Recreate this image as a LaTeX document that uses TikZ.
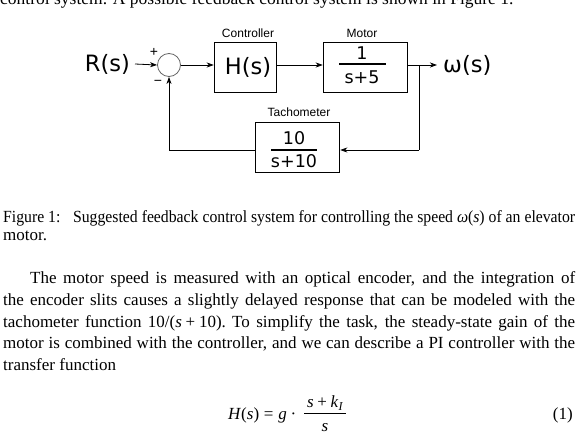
\documentclass[tikz,border=0pt]{standalone}
\usepackage{fontspec}
\usepackage{graphicx}
\setmainfont{Liberation Serif}
\newfontfamily\djv{DejaVu Sans}
\newfontfamily\lsans{Liberation Sans}
\usetikzlibrary{arrows.meta}
\newcommand\jline[2]{\makebox[#1][s]{\spaceskip=0.25em plus 0.6em minus 0.12em\relax #2}}
\newcommand\fitline[2]{\resizebox{#1}{\height}{#2}}
\begin{document}
\begin{tikzpicture}[x=1pt,y=-1pt,
 blk/.style={draw,line width=1.5pt,inner sep=0pt},
 conn/.style={line width=0.8pt},
 arr/.style={conn,-{Stealth[length=7pt,width=5pt,inset=2pt]}},
 lbl/.style={font=\lsans\fontsize{12}{14}\selectfont,inner sep=0pt},
 sgn/.style={font=\lsans\fontsize{14}{16}\selectfont,inner sep=0pt},
 big/.style={font=\djv\fontsize{22.5}{26}\selectfont,inner sep=0pt},
 frc/.style={font=\djv\fontsize{17.5}{20}\selectfont,inner sep=0pt},
 bar/.style={line width=1.2pt},
 body/.style={font=\fontsize{17}{20}\selectfont,inner sep=0pt,anchor=base west},
]
\useasboundingbox (0,0) rectangle (583,436);
\clip (0,0) rectangle (583,436);

% top text line (cut off)
\node[body,font=\fontsize{17.5}{20}\selectfont] (t0) at (0,5) {control system. A possible feedback control system is shown in Figure 1.};

% diagram
\node[big,anchor=east] (R) at (130,64) {R(s)};
\node[circle,draw=black!60,line width=0.8pt,minimum size=23pt,inner sep=0pt] (sum) at (169,65) {};
\node[sgn] (plus) at (154,52) {+};
\node[sgn] (minus) at (158,83) {−};

\node[blk,minimum width=62pt,minimum height=50pt] (H) at (245.5,67.5) {};
\node[big] (Ht) at (248,67) {H(s)};
\node[lbl] (cl) at (248,33) {Controller};

\node[blk,minimum width=84pt,minimum height=50pt] (M) at (365.5,67.5) {};
\node[frc] (mn) at (362,53) {1};
\node[frc] (md) at (362,77) {s+5};
\coordinate (mb1) at (339,64);
\coordinate (mb2) at (386,64);
\draw[bar] (mb1) -- (mb2);
\node[lbl] (ml) at (362,33) {Motor};

\node[blk,minimum width=84pt,minimum height=50pt] (T) at (297.5,147.5) {};
\node[frc] (tn) at (294,138) {10};
\node[frc] (td) at (294,161) {s+10};
\coordinate (tb1) at (271,150);
\coordinate (tb2) at (317,150);
\draw[bar] (tb1) -- (tb2);
\node[lbl] (tl) at (299,112) {Tachometer};

\node[big,anchor=west] (w) at (443,65) {ω(s)};

\draw[arr] ([xshift=5pt]R.east) -- (sum.west);
\draw[arr] (sum.east) -- (sum.east -| H.west);
\draw[arr] (H.east |- sum) -- (sum -| M.west);
\draw[arr] (M.east |- sum) -- ([xshift=-6pt]w.west |- sum);
\coordinate (br) at (419,65);
\coordinate (fb) at (419,150);
\coordinate (fl) at (169,150);
\draw[conn] (br) -- (fb);
\draw[arr] (fb) -- (fb -| T.east);
\draw[conn] (fb -| T.west) -- (fl);
\draw[arr] (fl) -- (sum.south);

% caption
\node[body] (c1) at (3,222) {\fitline{572pt}{Figure 1:\hskip 0.8em Suggested feedback control system for controlling the speed \textit{ω}(\textit{s}) of an elevator}};
\node[body] (c2) at (3,240) {motor.};

% paragraph
\node[body] (p1) at (30,283.5) {\jline{545pt}{The motor speed is measured with an optical encoder, and the integration of}};
\node[body] (p2) at (3,305.3) {\jline{572pt}{the encoder slits causes a slightly delayed response that can be modeled with the}};
\node[body] (p3) at (3,327) {\jline{572pt}{tachometer function \mbox{10/(\textit{s}\kern0.22em+\kern0.22em10).} To simplify the task, the steady-state gain of the}};
\node[body] (p4) at (3,348.8) {\jline{572pt}{motor is combined with the controller, and we can describe a PI controller with the}};
\node[body] (p5) at (3,370.6) {transfer function};

% equation
\node[body] (e1) at (228,419) {\textit{H}(\textit{s})\kern0.28em=\kern0.28em\textit{g}\kern0.22em·};
\node[body,anchor=base] (en) at (325,407) {\textit{s}\kern0.22em+\kern0.22em\textit{k}\raisebox{-0.22em}{\fontsize{12}{13}\selectfont\textit{I}}};
\coordinate (eb1) at (304,413);
\coordinate (eb2) at (346,413);
\draw[line width=0.8pt] (eb1) -- (eb2);
\node[body,anchor=base] (ed) at (325,431) {\textit{s}};
\node[body,anchor=base east] (eq) at (573,419) {(1)};
\end{tikzpicture}
\end{document}
